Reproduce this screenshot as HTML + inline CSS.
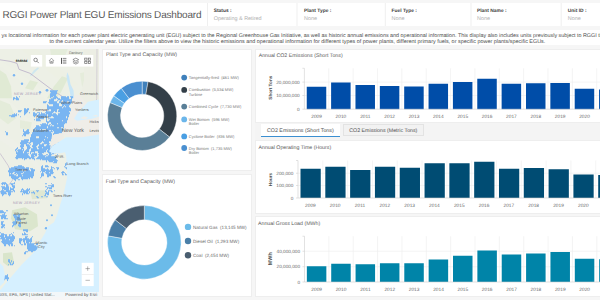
<!DOCTYPE html>
<html><head><meta charset="utf-8"><style>
html,body{margin:0;padding:0;text-rendering:geometricPrecision;}
body{width:600px;height:300px;overflow:hidden;position:relative;background:#f6f6f6;font-family:"Liberation Sans",sans-serif;}
.abs{position:absolute;}
.panel{position:absolute;background:#fff;box-sizing:border-box;border:1px solid #eeeeee;}
svg{position:absolute;left:0;top:0;}
svg text{font-family:"Liberation Sans",sans-serif;}
</style></head><body>
<div class="abs" style="left:0;top:3px;width:600px;height:23px;background:#fff;"></div>
<svg width="600" height="300" viewBox="0 0 600 300">
<!-- header separators -->
<line x1="207.5" y1="3" x2="207.5" y2="26" stroke="#efefef" stroke-width="1"/>
<line x1="297" y1="3" x2="297" y2="26" stroke="#efefef" stroke-width="1"/>
<line x1="385.3" y1="3" x2="385.3" y2="26" stroke="#efefef" stroke-width="1"/>
<line x1="471" y1="3" x2="471" y2="26" stroke="#efefef" stroke-width="1"/>
<line x1="561.2" y1="3" x2="561.2" y2="26" stroke="#efefef" stroke-width="1"/>
<text x="2.5" y="17.9" font-size="10" fill="#5a5a5a" text-anchor="start" font-weight="normal" letter-spacing="-0.2">RGGI Power Plant EGU Emissions Dashboard</text>
<text x="213.7" y="12" font-size="4.9" fill="#404040" text-anchor="start" font-weight="bold" >Status :</text>
<text x="213.7" y="20" font-size="5.43" fill="#b0b0b0" text-anchor="start" font-weight="normal" >Operating &amp; Retired</text>
<text x="304" y="12" font-size="4.9" fill="#404040" text-anchor="start" font-weight="bold" >Plant Type :</text>
<text x="304" y="20" font-size="5.43" fill="#b0b0b0" text-anchor="start" font-weight="normal" >None</text>
<text x="391.5" y="12" font-size="4.9" fill="#404040" text-anchor="start" font-weight="bold" >Fuel Type :</text>
<text x="391.5" y="20" font-size="5.43" fill="#b0b0b0" text-anchor="start" font-weight="normal" >None</text>
<text x="477" y="12" font-size="4.9" fill="#404040" text-anchor="start" font-weight="bold" >Plant Name :</text>
<text x="477" y="20" font-size="5.43" fill="#b0b0b0" text-anchor="start" font-weight="normal" >None</text>
<text x="567.8" y="12" font-size="4.9" fill="#404040" text-anchor="start" font-weight="bold" >Unit ID :</text>
<text x="567.8" y="20" font-size="5.43" fill="#b0b0b0" text-anchor="start" font-weight="normal" >None</text>
</svg>
<div class="abs" style="left:0;top:29.5px;width:600px;height:15.5px;background:#fff;"></div>
<div class="abs" style="left:1.6px;top:32.6px;white-space:nowrap;font-size:5.37px;line-height:6px;color:#4c4c4c;">ys locational information for each power plant electric generating unit (EGU) subject to the Regional Greenhouse Gas Initiative, as well as historic annual emissions and operational information. This display also includes units previously subject to RGGI through</div>
<div class="abs" style="left:49.5px;top:39.1px;white-space:nowrap;font-size:5.43px;line-height:6px;color:#4c4c4c;">to the current calendar year. Utilize the filters above to view the historic emissions and operational information for different types of power plants, different primary fuels, or specific power plants/specific EGUs.</div>
<div class="panel" style="left:102px;top:48.5px;width:150px;height:122px;"></div>
<div class="panel" style="left:102px;top:174.4px;width:150px;height:122.6px;"></div>
<div class="panel" style="left:254.5px;top:48.5px;width:350px;height:74.5px;"></div>
<div class="abs" style="left:254.5px;top:123px;width:350px;height:17px;background:#f4f4f4;"></div>
<div class="abs" style="left:261px;top:123.5px;width:78.7px;height:13px;background:#fff;border-bottom:1px solid #3b8fd1;box-sizing:border-box;"></div>
<div class="abs" style="left:343px;top:124.3px;width:81px;height:12.2px;background:#f2f2f2;border:0.6px solid #e3e3e3;box-sizing:border-box;"></div>
<div class="panel" style="left:254.5px;top:140px;width:350px;height:73.8px;"></div>
<div class="panel" style="left:254.5px;top:216.3px;width:350px;height:80.6px;"></div>
<svg width="600" height="300" viewBox="0 0 600 300">
<text x="106" y="56.3" font-size="5.25" fill="#5c5c5c" text-anchor="start" font-weight="normal" >Plant Type and Capacity (MW)</text>
<text x="105.7" y="182.7" font-size="5.25" fill="#5c5c5c" text-anchor="start" font-weight="normal" >Fuel Type and Capacity (MW)</text>
<text x="258.7" y="56.6" font-size="5.25" fill="#5c5c5c" text-anchor="start" font-weight="normal" >Annual CO2 Emissions (Short Tons)</text>
<text x="258.5" y="148.5" font-size="5.25" fill="#5c5c5c" text-anchor="start" font-weight="normal" >Annual Operating Time (Hours)</text>
<text x="258" y="224.8" font-size="5.25" fill="#5c5c5c" text-anchor="start" font-weight="normal" >Annual Gross Load (MWh)</text>
<text x="267" y="132.2" font-size="5.3" fill="#4c4c4c" text-anchor="start" font-weight="normal" >CO2 Emissions (Short Tons)</text>
<text x="349.3" y="132.2" font-size="5.28" fill="#4c4c4c" text-anchor="start" font-weight="normal" >CO2 Emissions (Metric Tons)</text>
<path d="M142.15 81.20A34.65 34.65 0 0 1 148.06 81.71L145.84 94.52A21.65 21.65 0 0 0 142.15 94.20Z" fill="#3f80bb" stroke="#fff" stroke-width="0.4"/><path d="M148.06 81.71A34.65 34.65 0 0 1 169.54 137.07L159.27 129.11A21.65 21.65 0 0 0 145.84 94.52Z" fill="#333f48" stroke="#fff" stroke-width="0.4"/><path d="M169.54 137.07A34.65 34.65 0 0 1 110.14 102.59L122.15 107.56A21.65 21.65 0 0 0 159.27 129.11Z" fill="#5a7f97" stroke="#fff" stroke-width="0.4"/><path d="M110.14 102.59A34.65 34.65 0 0 1 113.84 95.87L124.46 103.37A21.65 21.65 0 0 0 122.15 107.56Z" fill="#6cb6ea" stroke="#fff" stroke-width="0.4"/><path d="M113.84 95.87A34.65 34.65 0 0 1 121.31 88.17L129.13 98.55A21.65 21.65 0 0 0 124.46 103.37Z" fill="#4a9fe3" stroke="#fff" stroke-width="0.4"/><path d="M121.31 88.17A34.65 34.65 0 0 1 142.15 81.20L142.15 94.20A21.65 21.65 0 0 0 129.13 98.55Z" fill="#4a8fd0" stroke="#fff" stroke-width="0.4"/><path d="M144.30 205.55A36.8 36.8 0 1 1 108.08 235.87L122.00 238.36A22.65 22.65 0 1 0 144.30 219.70Z" fill="#6bbbe9" stroke="#fff" stroke-width="0.4"/><path d="M108.08 235.87A36.8 36.8 0 0 1 115.18 219.85L126.38 228.50A22.65 22.65 0 0 0 122.00 238.36Z" fill="#4a7fa8" stroke="#fff" stroke-width="0.4"/><path d="M115.18 219.85A36.8 36.8 0 0 1 144.30 205.55L144.30 219.70A22.65 22.65 0 0 0 126.38 228.50Z" fill="#4a5e70" stroke="#fff" stroke-width="0.4"/><circle cx="184.2" cy="77.6" r="2.9" fill="#3f80bb"/><text x="188.8" y="79.1" font-size="4.0" fill="#7a7a7a" text-anchor="start" font-weight="normal" >Tangentially-fired&#160;&#160;(461 MW)</text><circle cx="184.2" cy="89.9" r="2.9" fill="#333f48"/><text x="188.8" y="91.4" font-size="4.0" fill="#7a7a7a" text-anchor="start" font-weight="normal" >Combustion&#160;&#160;(5,534 MW)</text><text x="188.8" y="95.7" font-size="4.0" fill="#7a7a7a" text-anchor="start" font-weight="normal" >Turbine</text><circle cx="184.2" cy="106.6" r="2.9" fill="#5a7f97"/><text x="188.8" y="108.1" font-size="4.0" fill="#7a7a7a" text-anchor="start" font-weight="normal" >Combined Cycle&#160;&#160;(7,730 MW)</text><circle cx="184.2" cy="119.4" r="2.9" fill="#6cb6ea"/><text x="188.8" y="120.9" font-size="4.0" fill="#7a7a7a" text-anchor="start" font-weight="normal" >Wet Bottom&#160;&#160;(596 MW)</text><text x="188.8" y="125.2" font-size="4.0" fill="#7a7a7a" text-anchor="start" font-weight="normal" >Boiler</text><circle cx="184.2" cy="136.4" r="2.9" fill="#4a9fe3"/><text x="188.8" y="137.9" font-size="4.0" fill="#7a7a7a" text-anchor="start" font-weight="normal" >Cyclone Boiler&#160;&#160;(836 MW)</text><circle cx="184.2" cy="148" r="2.9" fill="#4a8fd0"/><text x="188.8" y="149.5" font-size="4.0" fill="#7a7a7a" text-anchor="start" font-weight="normal" >Dry Bottom&#160;&#160;(1,735 MW)</text><text x="188.8" y="153.8" font-size="4.0" fill="#7a7a7a" text-anchor="start" font-weight="normal" >Boiler</text><circle cx="188" cy="226.9" r="3.2" fill="#6bbbe9"/><text x="193" y="228.6" font-size="4.6" fill="#6e6e6e" text-anchor="start" font-weight="normal" >Natural Gas&#160;&#160;(13,145 MW)</text><circle cx="188" cy="241" r="3.2" fill="#4a7fa8"/><text x="193" y="242.7" font-size="4.6" fill="#6e6e6e" text-anchor="start" font-weight="normal" >Diesel Oil&#160;&#160;(1,293 MW)</text><circle cx="188" cy="255.3" r="3.2" fill="#4a5e70"/><text x="193" y="257.0" font-size="4.6" fill="#6e6e6e" text-anchor="start" font-weight="normal" >Coal&#160;&#160;(2,454 MW)</text>
<line x1="328.76" y1="68.3" x2="328.76" y2="109.2" stroke="#ececec" stroke-width="0.6"/><line x1="353.12" y1="68.3" x2="353.12" y2="109.2" stroke="#ececec" stroke-width="0.6"/><line x1="377.48" y1="68.3" x2="377.48" y2="109.2" stroke="#ececec" stroke-width="0.6"/><line x1="401.84" y1="68.3" x2="401.84" y2="109.2" stroke="#ececec" stroke-width="0.6"/><line x1="426.20" y1="68.3" x2="426.20" y2="109.2" stroke="#ececec" stroke-width="0.6"/><line x1="450.56" y1="68.3" x2="450.56" y2="109.2" stroke="#ececec" stroke-width="0.6"/><line x1="474.92" y1="68.3" x2="474.92" y2="109.2" stroke="#ececec" stroke-width="0.6"/><line x1="499.28" y1="68.3" x2="499.28" y2="109.2" stroke="#ececec" stroke-width="0.6"/><line x1="523.64" y1="68.3" x2="523.64" y2="109.2" stroke="#ececec" stroke-width="0.6"/><line x1="548.00" y1="68.3" x2="548.00" y2="109.2" stroke="#ececec" stroke-width="0.6"/><line x1="572.36" y1="68.3" x2="572.36" y2="109.2" stroke="#ececec" stroke-width="0.6"/><line x1="596.72" y1="68.3" x2="596.72" y2="109.2" stroke="#ececec" stroke-width="0.6"/><line x1="621.08" y1="68.3" x2="621.08" y2="109.2" stroke="#ececec" stroke-width="0.6"/><line x1="304.4" y1="82.1" x2="600" y2="82.1" stroke="#ececec" stroke-width="0.6"/><line x1="304.4" y1="95.5" x2="600" y2="95.5" stroke="#ececec" stroke-width="0.6"/><rect x="306.75" y="86.75" width="19.5" height="22.45" fill="#004da8"/><text x="316.58" y="118" font-size="4.8" fill="#6a6a6a" text-anchor="middle" font-weight="normal" >2009</text><rect x="331.11" y="82.5" width="19.5" height="26.70" fill="#004da8"/><text x="340.94" y="118" font-size="4.8" fill="#6a6a6a" text-anchor="middle" font-weight="normal" >2010</text><rect x="355.47" y="85" width="19.5" height="24.20" fill="#004da8"/><text x="365.30" y="118" font-size="4.8" fill="#6a6a6a" text-anchor="middle" font-weight="normal" >2011</text><rect x="379.83" y="86" width="19.5" height="23.20" fill="#004da8"/><text x="389.66" y="118" font-size="4.8" fill="#6a6a6a" text-anchor="middle" font-weight="normal" >2012</text><rect x="404.19" y="86.5" width="19.5" height="22.70" fill="#004da8"/><text x="414.02" y="118" font-size="4.8" fill="#6a6a6a" text-anchor="middle" font-weight="normal" >2013</text><rect x="428.55" y="83.75" width="19.5" height="25.45" fill="#004da8"/><text x="438.38" y="118" font-size="4.8" fill="#6a6a6a" text-anchor="middle" font-weight="normal" >2014</text><rect x="452.91" y="82" width="19.5" height="27.20" fill="#004da8"/><text x="462.74" y="118" font-size="4.8" fill="#6a6a6a" text-anchor="middle" font-weight="normal" >2015</text><rect x="477.27" y="78.75" width="19.5" height="30.45" fill="#004da8"/><text x="487.10" y="118" font-size="4.8" fill="#6a6a6a" text-anchor="middle" font-weight="normal" >2016</text><rect x="501.63" y="83.75" width="19.5" height="25.45" fill="#004da8"/><text x="511.46" y="118" font-size="4.8" fill="#6a6a6a" text-anchor="middle" font-weight="normal" >2017</text><rect x="525.99" y="83.25" width="19.5" height="25.95" fill="#004da8"/><text x="535.82" y="118" font-size="4.8" fill="#6a6a6a" text-anchor="middle" font-weight="normal" >2018</text><rect x="550.35" y="83" width="19.5" height="26.20" fill="#004da8"/><text x="560.18" y="118" font-size="4.8" fill="#6a6a6a" text-anchor="middle" font-weight="normal" >2019</text><rect x="574.71" y="88.75" width="19.5" height="20.45" fill="#004da8"/><text x="584.54" y="118" font-size="4.8" fill="#6a6a6a" text-anchor="middle" font-weight="normal" >2020</text><rect x="599.07" y="89.5" width="19.5" height="19.70" fill="#004da8"/><text x="608.90" y="118" font-size="4.8" fill="#6a6a6a" text-anchor="middle" font-weight="normal" >2021</text><line x1="304.4" y1="68.3" x2="304.4" y2="109.2" stroke="#cfcfcf" stroke-width="0.6"/><line x1="304.4" y1="109.2" x2="600" y2="109.2" stroke="#cfcfcf" stroke-width="0.6"/><text x="299.7" y="83.8" font-size="4.7" fill="#6a6a6a" text-anchor="end" font-weight="normal" >20,000,000</text><line x1="302.4" y1="82.1" x2="304.4" y2="82.1" stroke="#cfcfcf" stroke-width="0.6"/><text x="299.7" y="97.2" font-size="4.7" fill="#6a6a6a" text-anchor="end" font-weight="normal" >10,000,000</text><line x1="302.4" y1="95.5" x2="304.4" y2="95.5" stroke="#cfcfcf" stroke-width="0.6"/><text x="299.7" y="110.9" font-size="4.7" fill="#6a6a6a" text-anchor="end" font-weight="normal" >0</text><line x1="302.4" y1="109.2" x2="304.4" y2="109.2" stroke="#cfcfcf" stroke-width="0.6"/><line x1="302.4" y1="68.3" x2="304.4" y2="68.3" stroke="#cfcfcf" stroke-width="0.6"/><text x="0" y="0" font-size="4.6" fill="#505050" font-weight="bold" text-anchor="middle" transform="translate(272,87.7) rotate(-90)">Short Tons</text><line x1="322.81" y1="160.5" x2="322.81" y2="198" stroke="#ececec" stroke-width="0.6"/><line x1="347.62" y1="160.5" x2="347.62" y2="198" stroke="#ececec" stroke-width="0.6"/><line x1="372.43" y1="160.5" x2="372.43" y2="198" stroke="#ececec" stroke-width="0.6"/><line x1="397.24" y1="160.5" x2="397.24" y2="198" stroke="#ececec" stroke-width="0.6"/><line x1="422.05" y1="160.5" x2="422.05" y2="198" stroke="#ececec" stroke-width="0.6"/><line x1="446.86" y1="160.5" x2="446.86" y2="198" stroke="#ececec" stroke-width="0.6"/><line x1="471.67" y1="160.5" x2="471.67" y2="198" stroke="#ececec" stroke-width="0.6"/><line x1="496.48" y1="160.5" x2="496.48" y2="198" stroke="#ececec" stroke-width="0.6"/><line x1="521.29" y1="160.5" x2="521.29" y2="198" stroke="#ececec" stroke-width="0.6"/><line x1="546.10" y1="160.5" x2="546.10" y2="198" stroke="#ececec" stroke-width="0.6"/><line x1="570.91" y1="160.5" x2="570.91" y2="198" stroke="#ececec" stroke-width="0.6"/><line x1="595.72" y1="160.5" x2="595.72" y2="198" stroke="#ececec" stroke-width="0.6"/><line x1="620.53" y1="160.5" x2="620.53" y2="198" stroke="#ececec" stroke-width="0.6"/><line x1="298" y1="173.25" x2="600" y2="173.25" stroke="#ececec" stroke-width="0.6"/><line x1="298" y1="185.5" x2="600" y2="185.5" stroke="#ececec" stroke-width="0.6"/><rect x="300.50" y="168.75" width="20.25" height="29.25" fill="#004c73"/><text x="310.40" y="207" font-size="4.8" fill="#6a6a6a" text-anchor="middle" font-weight="normal" >2009</text><rect x="325.31" y="166.75" width="20.25" height="31.25" fill="#004c73"/><text x="335.21" y="207" font-size="4.8" fill="#6a6a6a" text-anchor="middle" font-weight="normal" >2010</text><rect x="350.12" y="170" width="20.25" height="28.00" fill="#004c73"/><text x="360.02" y="207" font-size="4.8" fill="#6a6a6a" text-anchor="middle" font-weight="normal" >2011</text><rect x="374.93" y="166.75" width="20.25" height="31.25" fill="#004c73"/><text x="384.83" y="207" font-size="4.8" fill="#6a6a6a" text-anchor="middle" font-weight="normal" >2012</text><rect x="399.74" y="167.75" width="20.25" height="30.25" fill="#004c73"/><text x="409.64" y="207" font-size="4.8" fill="#6a6a6a" text-anchor="middle" font-weight="normal" >2013</text><rect x="424.55" y="163.25" width="20.25" height="34.75" fill="#004c73"/><text x="434.45" y="207" font-size="4.8" fill="#6a6a6a" text-anchor="middle" font-weight="normal" >2014</text><rect x="449.36" y="163.25" width="20.25" height="34.75" fill="#004c73"/><text x="459.26" y="207" font-size="4.8" fill="#6a6a6a" text-anchor="middle" font-weight="normal" >2015</text><rect x="474.17" y="161.75" width="20.25" height="36.25" fill="#004c73"/><text x="484.07" y="207" font-size="4.8" fill="#6a6a6a" text-anchor="middle" font-weight="normal" >2016</text><rect x="498.98" y="168.75" width="20.25" height="29.25" fill="#004c73"/><text x="508.88" y="207" font-size="4.8" fill="#6a6a6a" text-anchor="middle" font-weight="normal" >2017</text><rect x="523.79" y="168" width="20.25" height="30.00" fill="#004c73"/><text x="533.69" y="207" font-size="4.8" fill="#6a6a6a" text-anchor="middle" font-weight="normal" >2018</text><rect x="548.60" y="169.25" width="20.25" height="28.75" fill="#004c73"/><text x="558.50" y="207" font-size="4.8" fill="#6a6a6a" text-anchor="middle" font-weight="normal" >2019</text><rect x="573.41" y="174.5" width="20.25" height="23.50" fill="#004c73"/><text x="583.31" y="207" font-size="4.8" fill="#6a6a6a" text-anchor="middle" font-weight="normal" >2020</text><rect x="598.22" y="175" width="20.25" height="23.00" fill="#004c73"/><text x="608.12" y="207" font-size="4.8" fill="#6a6a6a" text-anchor="middle" font-weight="normal" >2021</text><line x1="298" y1="160.5" x2="298" y2="198" stroke="#cfcfcf" stroke-width="0.6"/><line x1="298" y1="198" x2="600" y2="198" stroke="#cfcfcf" stroke-width="0.6"/><text x="293.3" y="174.95" font-size="4.7" fill="#6a6a6a" text-anchor="end" font-weight="normal" >200,000</text><line x1="296" y1="173.25" x2="298" y2="173.25" stroke="#cfcfcf" stroke-width="0.6"/><text x="293.3" y="187.2" font-size="4.7" fill="#6a6a6a" text-anchor="end" font-weight="normal" >100,000</text><line x1="296" y1="185.5" x2="298" y2="185.5" stroke="#cfcfcf" stroke-width="0.6"/><text x="293.3" y="199.7" font-size="4.7" fill="#6a6a6a" text-anchor="end" font-weight="normal" >0</text><line x1="296" y1="198" x2="298" y2="198" stroke="#cfcfcf" stroke-width="0.6"/><line x1="296" y1="160.5" x2="298" y2="160.5" stroke="#cfcfcf" stroke-width="0.6"/><text x="0" y="0" font-size="4.6" fill="#505050" font-weight="bold" text-anchor="middle" transform="translate(271.5,179.5) rotate(-90)">Hours</text><line x1="328.86" y1="236.25" x2="328.86" y2="282" stroke="#ececec" stroke-width="0.6"/><line x1="353.22" y1="236.25" x2="353.22" y2="282" stroke="#ececec" stroke-width="0.6"/><line x1="377.58" y1="236.25" x2="377.58" y2="282" stroke="#ececec" stroke-width="0.6"/><line x1="401.94" y1="236.25" x2="401.94" y2="282" stroke="#ececec" stroke-width="0.6"/><line x1="426.30" y1="236.25" x2="426.30" y2="282" stroke="#ececec" stroke-width="0.6"/><line x1="450.66" y1="236.25" x2="450.66" y2="282" stroke="#ececec" stroke-width="0.6"/><line x1="475.02" y1="236.25" x2="475.02" y2="282" stroke="#ececec" stroke-width="0.6"/><line x1="499.38" y1="236.25" x2="499.38" y2="282" stroke="#ececec" stroke-width="0.6"/><line x1="523.74" y1="236.25" x2="523.74" y2="282" stroke="#ececec" stroke-width="0.6"/><line x1="548.10" y1="236.25" x2="548.10" y2="282" stroke="#ececec" stroke-width="0.6"/><line x1="572.46" y1="236.25" x2="572.46" y2="282" stroke="#ececec" stroke-width="0.6"/><line x1="596.82" y1="236.25" x2="596.82" y2="282" stroke="#ececec" stroke-width="0.6"/><line x1="621.18" y1="236.25" x2="621.18" y2="282" stroke="#ececec" stroke-width="0.6"/><line x1="304.5" y1="251.25" x2="600" y2="251.25" stroke="#ececec" stroke-width="0.6"/><line x1="304.5" y1="266.75" x2="600" y2="266.75" stroke="#ececec" stroke-width="0.6"/><rect x="306.85" y="266.25" width="19.5" height="15.75" fill="#0084a8"/><text x="316.68" y="291.3" font-size="4.8" fill="#6a6a6a" text-anchor="middle" font-weight="normal" >2009</text><rect x="331.21" y="263.75" width="19.5" height="18.25" fill="#0084a8"/><text x="341.04" y="291.3" font-size="4.8" fill="#6a6a6a" text-anchor="middle" font-weight="normal" >2010</text><rect x="355.57" y="264.25" width="19.5" height="17.75" fill="#0084a8"/><text x="365.40" y="291.3" font-size="4.8" fill="#6a6a6a" text-anchor="middle" font-weight="normal" >2011</text><rect x="379.93" y="263.25" width="19.5" height="18.75" fill="#0084a8"/><text x="389.76" y="291.3" font-size="4.8" fill="#6a6a6a" text-anchor="middle" font-weight="normal" >2012</text><rect x="404.29" y="263.25" width="19.5" height="18.75" fill="#0084a8"/><text x="414.12" y="291.3" font-size="4.8" fill="#6a6a6a" text-anchor="middle" font-weight="normal" >2013</text><rect x="428.65" y="259.5" width="19.5" height="22.50" fill="#0084a8"/><text x="438.48" y="291.3" font-size="4.8" fill="#6a6a6a" text-anchor="middle" font-weight="normal" >2014</text><rect x="453.01" y="255.75" width="19.5" height="26.25" fill="#0084a8"/><text x="462.84" y="291.3" font-size="4.8" fill="#6a6a6a" text-anchor="middle" font-weight="normal" >2015</text><rect x="477.37" y="250.5" width="19.5" height="31.50" fill="#0084a8"/><text x="487.20" y="291.3" font-size="4.8" fill="#6a6a6a" text-anchor="middle" font-weight="normal" >2016</text><rect x="501.73" y="254.5" width="19.5" height="27.50" fill="#0084a8"/><text x="511.56" y="291.3" font-size="4.8" fill="#6a6a6a" text-anchor="middle" font-weight="normal" >2017</text><rect x="526.09" y="253.5" width="19.5" height="28.50" fill="#0084a8"/><text x="535.92" y="291.3" font-size="4.8" fill="#6a6a6a" text-anchor="middle" font-weight="normal" >2018</text><rect x="550.45" y="252" width="19.5" height="30.00" fill="#0084a8"/><text x="560.28" y="291.3" font-size="4.8" fill="#6a6a6a" text-anchor="middle" font-weight="normal" >2019</text><rect x="574.81" y="258.75" width="19.5" height="23.25" fill="#0084a8"/><text x="584.64" y="291.3" font-size="4.8" fill="#6a6a6a" text-anchor="middle" font-weight="normal" >2020</text><rect x="599.17" y="259.25" width="19.5" height="22.75" fill="#0084a8"/><text x="609.00" y="291.3" font-size="4.8" fill="#6a6a6a" text-anchor="middle" font-weight="normal" >2021</text><line x1="304.5" y1="236.25" x2="304.5" y2="282" stroke="#cfcfcf" stroke-width="0.6"/><line x1="304.5" y1="282" x2="600" y2="282" stroke="#cfcfcf" stroke-width="0.6"/><text x="300" y="252.95" font-size="4.7" fill="#6a6a6a" text-anchor="end" font-weight="normal" >40,000,000</text><line x1="302.5" y1="251.25" x2="304.5" y2="251.25" stroke="#cfcfcf" stroke-width="0.6"/><text x="300" y="268.45" font-size="4.7" fill="#6a6a6a" text-anchor="end" font-weight="normal" >20,000,000</text><line x1="302.5" y1="266.75" x2="304.5" y2="266.75" stroke="#cfcfcf" stroke-width="0.6"/><text x="300" y="283.7" font-size="4.7" fill="#6a6a6a" text-anchor="end" font-weight="normal" >0</text><line x1="302.5" y1="282" x2="304.5" y2="282" stroke="#cfcfcf" stroke-width="0.6"/><line x1="302.5" y1="236.25" x2="304.5" y2="236.25" stroke="#cfcfcf" stroke-width="0.6"/><text x="0" y="0" font-size="5.4" fill="#505050" font-weight="bold" text-anchor="middle" transform="translate(271.6,258.7) rotate(-90)">MWh</text>
</svg>
<!-- MAP -->
<div class="abs" style="left:0;top:48.7px;width:99.3px;height:248.6px;overflow:hidden;background:#e7ecdd;">
<svg width="100" height="252" viewBox="0 48.7 100 252" style="left:0;top:0">
<rect x="0" y="48" width="100" height="253" fill="#edf0e6"/>
<!-- lighter ridges -->
<path d="M0 66 L40 95 L60 110 L60 104 L30 80 L0 60 Z" fill="#eef1e6"/>
<path d="M0 100 L30 125 L45 140 L50 136 L20 110 L0 92 Z" fill="#eef1e7"/>
<path d="M20 48 L70 88 L78 84 L35 48 Z" fill="#edf0e4"/>
<path d="M0 140 L30 160 L50 190 L55 185 L30 152 L0 130 Z" fill="#eef0e8"/>
<path d="M0 195 L20 190 L45 200 L55 215 L40 240 L20 260 L0 275 Z" fill="#edf0e6"/>
<!-- green forests -->
<g fill="#e0eAd4">
<path d="M0 70 L6 74 L11 86 L12 98 L0 98 Z"/>
<path d="M47 98 L54 86 L62 76 L68 78 L61 92 L56 98 Z"/>
<path d="M25 88 L30 80 L38 82 L33 90 Z"/>
<path d="M50 48 L68 48 L64 58 L52 60 Z" opacity="0.7"/>
<path d="M80 73 L92 70 L98 78 L90 90 L82 86 Z" opacity="0.6"/>
<path d="M0 100 L10 104 L16 118 L8 124 L0 118 Z" opacity="0.7"/>
<path d="M20 120 L32 122 L30 130 L20 128 Z" opacity="0.6"/>
</g>
<path d="M12 210 L25 207 L37 214 L38 226 L30 231 L15 229 L11 218 Z" fill="#dbe6cd"/>
<path d="M3 253 L12 252 L14 262 L8 266 L3 262 Z" fill="#d9e5cb"/>
<path d="M30 190 L45 190 L47 198 L32 199 Z" fill="#dfe8d3"/>
<!-- NYC beige -->
<path d="M73 95 L100 93 L100 137 L80 139 L64 135 L62 133 L66 124 L71 112 Z" fill="#efede8"/>
<path d="M84 48 L100 48 L100 100 L88 104 L80 96 L84 80 Z" fill="#eceee4"/>
<!-- water -->
<path d="M67.3 72 L69 76 L70.5 84 L73.5 90 L74 98 L71 98 L69.5 90 L67.5 82 L66.5 76 Z" fill="#c9e6f7"/>
<path d="M30 75 L34 70 L38 67 L39 68 L35 72 L31 76 Z" fill="#cfe7ef"/>
<!-- state border -->
<path d="M0 59.5 L10 61 L17 63 L19 69 L30 73 L50 88 L62 96 L72 100" fill="none" stroke="#b9aec6" stroke-width="0.8"/>
<path d="M0 153 L8 165 L14 178 L6 188 L0 193" fill="none" stroke="#c3b9cc" stroke-width="0.7"/>
<path d="M97 48 L96.7 98 L95 110" fill="none" stroke="#c4bccd" stroke-width="0.6"/>
<!-- blue clusters -->
<filter id="bl" x="-5%" y="-5%" width="110%" height="110%"><feGaussianBlur stdDeviation="0.35"/></filter><path d="M50 90h8v1h-8zM50 91h7v1h-7zM51 92h6v1h-6zM50 93h7v1h-7zM50 94h6v1h-6zM50 95h6v1h-6zM16 96h1v1h-1zM19 96h1v1h-1zM50 96h3v1h-3zM54 96h3v1h-3zM61 96h5v1h-5zM67 96h2v1h-2zM70 96h3v1h-3zM13 97h2v1h-2zM16 97h2v1h-2zM50 97h1v1h-1zM53 97h5v1h-5zM61 97h8v1h-8zM71 97h2v1h-2zM13 98h6v1h-6zM51 98h5v1h-5zM57 98h3v1h-3zM61 98h8v1h-8zM71 98h1v1h-1zM13 99h1v1h-1zM16 99h3v1h-3zM49 99h5v1h-5zM58 99h14v1h-14zM49 100h5v1h-5zM57 100h1v1h-1zM60 100h2v1h-2zM63 100h9v1h-9zM43 101h4v1h-4zM49 101h8v1h-8zM59 101h2v1h-2zM63 101h4v1h-4zM69 101h3v1h-3zM43 102h3v1h-3zM48 102h9v1h-9zM59 102h8v1h-8zM68 102h4v1h-4zM49 103h10v1h-10zM61 103h10v1h-10zM47 104h1v1h-1zM53 104h6v1h-6zM62 104h8v1h-8zM47 105h2v1h-2zM53 105h6v1h-6zM62 105h2v1h-2zM65 105h4v1h-4zM47 106h16v1h-16zM64 106h1v1h-1zM66 106h3v1h-3zM47 107h15v1h-15zM63 107h7v1h-7zM24 108h2v1h-2zM27 108h2v1h-2zM47 108h24v1h-24zM24 109h5v1h-5zM48 109h1v1h-1zM51 109h6v1h-6zM59 109h12v1h-12zM18 110h4v1h-4zM24 110h4v1h-4zM46 110h1v1h-1zM51 110h6v1h-6zM58 110h13v1h-13zM18 111h3v1h-3zM24 111h4v1h-4zM46 111h8v1h-8zM55 111h2v1h-2zM58 111h11v1h-11zM24 112h3v1h-3zM29 112h1v1h-1zM33 112h2v1h-2zM37 112h3v1h-3zM41 112h1v1h-1zM45 112h8v1h-8zM60 112h10v1h-10zM14 113h1v1h-1zM16 113h1v1h-1zM24 113h2v1h-2zM33 113h4v1h-4zM39 113h1v1h-1zM41 113h4v1h-4zM46 113h6v1h-6zM53 113h3v1h-3zM58 113h12v1h-12zM12 114h5v1h-5zM18 114h1v1h-1zM24 114h1v1h-1zM33 114h4v1h-4zM38 114h9v1h-9zM48 114h9v1h-9zM58 114h11v1h-11zM9 115h8v1h-8zM33 115h3v1h-3zM37 115h10v1h-10zM48 115h21v1h-21zM11 116h4v1h-4zM20 116h1v1h-1zM34 116h1v1h-1zM37 116h10v1h-10zM48 116h3v1h-3zM53 116h13v1h-13zM67 116h2v1h-2zM38 117h6v1h-6zM46 117h1v1h-1zM54 117h12v1h-12zM67 117h1v1h-1zM36 118h8v1h-8zM46 118h1v1h-1zM48 118h20v1h-20zM34 119h1v1h-1zM36 119h4v1h-4zM46 119h1v1h-1zM50 119h18v1h-18zM36 120h5v1h-5zM46 120h1v1h-1zM49 120h13v1h-13zM63 120h4v1h-4zM46 121h21v1h-21zM47 122h2v1h-2zM51 122h16v1h-16zM42 123h4v1h-4zM47 123h1v1h-1zM51 123h6v1h-6zM58 123h7v1h-7zM40 124h8v1h-8zM49 124h2v1h-2zM52 124h12v1h-12zM36 125h3v1h-3zM41 125h9v1h-9zM51 125h1v1h-1zM54 125h10v1h-10zM36 126h11v1h-11zM48 126h16v1h-16zM35 127h12v1h-12zM48 127h9v1h-9zM59 127h2v1h-2zM63 127h1v1h-1zM34 128h29v1h-29zM23 129h1v1h-1zM27 129h2v1h-2zM33 129h2v1h-2zM36 129h4v1h-4zM41 129h1v1h-1zM46 129h17v1h-17zM23 130h1v1h-1zM26 130h3v1h-3zM33 130h16v1h-16zM51 130h1v1h-1zM53 130h10v1h-10zM5 131h1v1h-1zM23 131h6v1h-6zM33 131h20v1h-20zM54 131h8v1h-8zM6 132h2v1h-2zM24 132h6v1h-6zM32 132h19v1h-19zM54 132h8v1h-8zM6 133h2v1h-2zM23 133h6v1h-6zM32 133h20v1h-20zM53 133h6v1h-6zM6 134h2v1h-2zM23 134h3v1h-3zM31 134h21v1h-21zM53 134h1v1h-1zM22 135h1v1h-1zM24 135h2v1h-2zM31 135h21v1h-21zM31 136h5v1h-5zM39 136h6v1h-6zM46 136h6v1h-6zM30 137h6v1h-6zM39 137h8v1h-8zM48 137h6v1h-6zM55 137h2v1h-2zM30 138h24v1h-24zM55 138h5v1h-5zM24 139h5v1h-5zM30 139h14v1h-14zM45 139h6v1h-6zM53 139h2v1h-2zM57 139h1v1h-1zM59 139h1v1h-1zM21 140h8v1h-8zM30 140h21v1h-21zM52 140h3v1h-3zM57 140h1v1h-1zM21 141h7v1h-7zM30 141h12v1h-12zM43 141h6v1h-6zM51 141h5v1h-5zM57 141h1v1h-1zM20 142h11v1h-11zM33 142h8v1h-8zM44 142h5v1h-5zM51 142h3v1h-3zM58 142h2v1h-2zM20 143h7v1h-7zM29 143h1v1h-1zM33 143h7v1h-7zM42 143h8v1h-8zM51 143h5v1h-5zM58 143h2v1h-2zM21 144h3v1h-3zM26 144h3v1h-3zM30 144h1v1h-1zM33 144h5v1h-5zM39 144h5v1h-5zM47 144h2v1h-2zM51 144h7v1h-7zM20 145h4v1h-4zM26 145h4v1h-4zM32 145h5v1h-5zM39 145h5v1h-5zM46 145h12v1h-12zM20 146h4v1h-4zM27 146h3v1h-3zM32 146h4v1h-4zM38 146h22v1h-22zM17 147h1v1h-1zM21 147h2v1h-2zM27 147h4v1h-4zM33 147h4v1h-4zM38 147h4v1h-4zM43 147h17v1h-17zM16 148h2v1h-2zM21 148h3v1h-3zM27 148h3v1h-3zM31 148h6v1h-6zM39 148h21v1h-21zM15 149h2v1h-2zM18 149h4v1h-4zM23 149h1v1h-1zM26 149h3v1h-3zM31 149h16v1h-16zM48 149h9v1h-9zM58 149h2v1h-2zM15 150h1v1h-1zM17 150h7v1h-7zM25 150h4v1h-4zM31 150h15v1h-15zM47 150h9v1h-9zM59 150h1v1h-1zM16 151h1v1h-1zM18 151h5v1h-5zM24 151h5v1h-5zM30 151h5v1h-5zM38 151h8v1h-8zM47 151h9v1h-9zM16 152h7v1h-7zM24 152h3v1h-3zM30 152h1v1h-1zM34 152h1v1h-1zM38 152h6v1h-6zM48 152h8v1h-8zM16 153h13v1h-13zM30 153h1v1h-1zM32 153h5v1h-5zM39 153h3v1h-3zM49 153h2v1h-2zM52 153h2v1h-2zM17 154h11v1h-11zM31 154h6v1h-6zM38 154h5v1h-5zM46 154h2v1h-2zM49 154h3v1h-3zM57 154h1v1h-1zM16 155h13v1h-13zM31 155h3v1h-3zM35 155h2v1h-2zM39 155h7v1h-7zM48 155h3v1h-3zM16 156h14v1h-14zM31 156h4v1h-4zM38 156h7v1h-7zM46 156h11v1h-11zM15 157h19v1h-19zM37 157h19v1h-19zM16 158h2v1h-2zM22 158h1v1h-1zM24 158h3v1h-3zM29 158h2v1h-2zM32 158h3v1h-3zM36 158h20v1h-20zM24 159h1v1h-1zM34 159h1v1h-1zM40 159h1v1h-1zM42 159h15v1h-15zM46 160h1v1h-1zM48 160h10v1h-10zM46 161h1v1h-1zM49 161h4v1h-4zM54 161h3v1h-3zM53 162h4v1h-4zM66 162h1v1h-1zM65 163h2v1h-2zM65 164h2v1h-2zM18 165h4v1h-4zM42 165h1v1h-1zM45 165h3v1h-3zM65 165h1v1h-1zM14 166h10v1h-10zM41 166h2v1h-2zM45 166h4v1h-4zM51 166h1v1h-1zM64 166h1v1h-1zM11 167h14v1h-14zM26 167h3v1h-3zM41 167h2v1h-2zM51 167h3v1h-3zM56 167h3v1h-3zM65 167h2v1h-2zM9 168h20v1h-20zM30 168h3v1h-3zM41 168h4v1h-4zM47 168h1v1h-1zM51 168h1v1h-1zM54 168h1v1h-1zM57 168h2v1h-2zM66 168h1v1h-1zM9 169h13v1h-13zM23 169h6v1h-6zM31 169h4v1h-4zM41 169h8v1h-8zM50 169h3v1h-3zM57 169h1v1h-1zM8 170h14v1h-14zM23 170h1v1h-1zM26 170h4v1h-4zM31 170h4v1h-4zM41 170h12v1h-12zM8 171h26v1h-26zM40 171h1v1h-1zM42 171h3v1h-3zM46 171h7v1h-7zM62 171h2v1h-2zM9 172h4v1h-4zM15 172h8v1h-8zM24 172h10v1h-10zM42 172h1v1h-1zM45 172h4v1h-4zM50 172h4v1h-4zM61 172h4v1h-4zM9 173h1v1h-1zM11 173h1v1h-1zM14 173h2v1h-2zM17 173h4v1h-4zM23 173h11v1h-11zM41 173h3v1h-3zM46 173h7v1h-7zM62 173h1v1h-1zM65 173h1v1h-1zM9 174h5v1h-5zM16 174h1v1h-1zM18 174h16v1h-16zM41 174h3v1h-3zM47 174h4v1h-4zM62 174h2v1h-2zM65 174h2v1h-2zM9 175h7v1h-7zM18 175h4v1h-4zM23 175h11v1h-11zM41 175h3v1h-3zM47 175h4v1h-4zM11 176h22v1h-22zM41 176h1v1h-1zM47 176h2v1h-2zM53 176h2v1h-2zM11 177h8v1h-8zM21 177h9v1h-9zM31 177h2v1h-2zM40 177h1v1h-1zM54 177h2v1h-2zM12 178h6v1h-6zM21 178h7v1h-7zM29 178h1v1h-1zM14 179h2v1h-2zM18 179h2v1h-2zM22 179h1v1h-1zM15 180h1v1h-1zM2 182h4v1h-4zM14 182h1v1h-1zM1 183h6v1h-6zM10 183h5v1h-5zM45 183h2v1h-2zM51 183h1v1h-1zM2 184h1v1h-1zM4 184h1v1h-1zM6 184h2v1h-2zM11 184h2v1h-2zM52 184h2v1h-2zM6 185h2v1h-2zM12 185h3v1h-3zM48 185h6v1h-6zM1 186h4v1h-4zM6 186h3v1h-3zM12 186h3v1h-3zM45 186h2v1h-2zM51 186h3v1h-3zM2 187h7v1h-7zM10 187h1v1h-1zM13 187h2v1h-2zM47 187h5v1h-5zM2 188h7v1h-7zM10 188h4v1h-4zM22 188h1v1h-1zM27 188h1v1h-1zM29 188h1v1h-1zM47 188h1v1h-1zM49 188h3v1h-3zM2 189h1v1h-1zM4 189h5v1h-5zM10 189h4v1h-4zM21 189h3v1h-3zM26 189h4v1h-4zM46 189h1v1h-1zM1 190h3v1h-3zM6 190h5v1h-5zM13 190h2v1h-2zM21 190h1v1h-1zM23 190h6v1h-6zM36 190h3v1h-3zM45 190h1v1h-1zM48 190h4v1h-4zM54 190h1v1h-1zM0 191h13v1h-13zM14 191h1v1h-1zM20 191h8v1h-8zM29 191h1v1h-1zM33 191h1v1h-1zM37 191h1v1h-1zM45 191h2v1h-2zM48 191h1v1h-1zM51 191h2v1h-2zM1 192h5v1h-5zM8 192h3v1h-3zM23 192h5v1h-5zM29 192h1v1h-1zM31 192h4v1h-4zM46 192h3v1h-3zM1 193h6v1h-6zM8 193h3v1h-3zM22 193h1v1h-1zM24 193h1v1h-1zM26 193h3v1h-3zM34 193h1v1h-1zM45 193h4v1h-4zM2 194h2v1h-2zM8 194h3v1h-3zM22 194h1v1h-1zM45 194h1v1h-1zM47 194h2v1h-2zM2 195h1v1h-1zM9 195h1v1h-1zM44 195h2v1h-2zM36 196h2v1h-2zM41 196h2v1h-2zM46 196h2v1h-2zM37 197h2v1h-2zM0 210h3v1h-3zM6 210h2v1h-2zM0 211h4v1h-4zM0 212h6v1h-6zM4 213h1v1h-1zM2 214h3v1h-3zM13 214h3v1h-3zM17 214h4v1h-4zM0 215h7v1h-7zM13 215h4v1h-4zM18 215h2v1h-2zM1 216h5v1h-5zM14 216h6v1h-6zM1 217h5v1h-5zM14 217h6v1h-6zM1 218h2v1h-2zM4 218h4v1h-4zM15 218h5v1h-5zM15 219h6v1h-6zM15 220h1v1h-1zM17 220h4v1h-4zM1 221h3v1h-3zM13 221h4v1h-4zM20 221h1v1h-1zM1 222h2v1h-2zM12 222h5v1h-5zM19 222h1v1h-1zM1 223h2v1h-2zM13 223h4v1h-4zM19 223h2v1h-2zM1 224h4v1h-4zM13 224h3v1h-3zM18 224h3v1h-3zM2 225h3v1h-3zM12 225h2v1h-2zM18 225h3v1h-3zM1 226h3v1h-3zM12 226h1v1h-1zM19 226h2v1h-2zM1 227h2v1h-2zM4 227h1v1h-1zM23 229h5v1h-5zM23 230h5v1h-5zM26 231h2v1h-2zM0 232h1v1h-1zM13 232h1v1h-1zM24 232h1v1h-1zM1 233h3v1h-3zM11 233h1v1h-1zM22 233h1v1h-1zM24 233h2v1h-2zM1 234h6v1h-6zM9 234h2v1h-2zM12 234h1v1h-1zM22 234h6v1h-6zM0 235h4v1h-4zM5 235h2v1h-2zM9 235h1v1h-1zM12 235h2v1h-2zM0 236h4v1h-4zM5 236h10v1h-10zM25 236h3v1h-3zM32 236h1v1h-1zM1 237h14v1h-14zM25 237h2v1h-2zM31 237h1v1h-1zM0 238h5v1h-5zM6 238h9v1h-9zM19 238h3v1h-3zM23 238h6v1h-6zM30 238h2v1h-2zM2 239h7v1h-7zM10 239h4v1h-4zM19 239h13v1h-13zM2 240h12v1h-12zM19 240h3v1h-3zM23 240h2v1h-2zM26 240h6v1h-6zM1 241h12v1h-12zM19 241h2v1h-2zM23 241h2v1h-2zM26 241h6v1h-6zM2 242h10v1h-10zM19 242h2v1h-2zM24 242h1v1h-1zM26 242h3v1h-3zM30 242h1v1h-1zM3 243h10v1h-10zM20 243h1v1h-1zM24 243h2v1h-2zM27 243h8v1h-8zM36 243h2v1h-2zM4 244h2v1h-2zM8 244h2v1h-2zM11 244h2v1h-2zM21 244h2v1h-2zM24 244h2v1h-2zM27 244h7v1h-7zM36 244h2v1h-2zM4 245h2v1h-2zM9 245h1v1h-1zM11 245h2v1h-2zM14 245h1v1h-1zM27 245h9v1h-9zM27 246h11v1h-11zM27 247h11v1h-11zM27 248h11v1h-11zM28 249h10v1h-10zM28 250h10v1h-10zM25 251h3v1h-3zM31 251h2v1h-2zM24 252h2v1h-2zM24 253h2v1h-2zM8 259h2v1h-2zM8 260h2v1h-2zM11 260h1v1h-1zM8 261h2v1h-2zM11 261h1v1h-1zM13 261h1v1h-1zM9 262h2v1h-2zM13 262h1v1h-1zM10 263h1v1h-1zM12 263h2v1h-2zM8 264h1v1h-1zM10 264h3v1h-3zM7 274h1v1h-1zM4 275h4v1h-4zM4 276h4v1h-4zM4 277h5v1h-5zM4 278h5v1h-5zM4 279h1v1h-1zM7 279h1v1h-1zM7 280h1v1h-1z" fill="#79b5f2" filter="url(#bl)"/>
<circle cx="14" cy="75" r="1.2" fill="#79b5f2"/><circle cx="22" cy="83.5" r="1.2" fill="#79b5f2"/><circle cx="40" cy="92" r="1.2" fill="#79b5f2"/><circle cx="47" cy="90" r="1.4" fill="#79b5f2"/><circle cx="51" cy="205" r="1" fill="#79b5f2"/><circle cx="52" cy="215" r="1" fill="#79b5f2"/><circle cx="47" cy="220" r="1" fill="#79b5f2"/><circle cx="46" cy="228" r="1.2" fill="#79b5f2"/><path d="M52 135 L58 133.5 L63 133 L64 137 L60 141 L52 146 L50 149 Z" fill="#eeece6"/>
<path d="M100 134 L82 137 L66 137 L60 141 L52 146 L49 151 L52 153 L60 153 L65 152 L66 155 L67 165 L67 178 L64 192 L60 205 L57 215 L54 222 L48 226 L45 233 L40 241 L37 249 L33 253 L28 258 L22 264 L16 271 L10 278 L5 284 L1 289 L0 290 L0 301 L100 301 Z" fill="#d6f0ff"/>
<path d="M78 112 L84 106 L88 101.5 L100 99 L100 116 L92 118.5 L84 119.5 L77 120.5 L74 118.5 Z" fill="#d6f0ff"/><path d="M80 118 L84 116 L88 117 L85 119 Z M92 116 L96 114.5 L98 116 Z" fill="#efede8"/>
<path d="M0 263 L3 266 L5 275 L4 282 L0 286 Z" fill="#d6f0ff"/>
<!-- labels -->
<g font-size="3.8" fill="#585858" font-family="Liberation Sans">
<text x="15.8" y="61.6" fill="#111" font-size="3.3" font-weight="bold">8h8h8d</text>
<text x="69" y="54" fill="#666" font-size="3.6">Danbury</text>
<text x="14" y="94.5" fill="#a596b4" font-size="3.6" letter-spacing="0.4">NEW JERSEY</text>
<text x="13" y="204" fill="#a596b4" font-size="3.6" letter-spacing="0.4">NEW JERSEY</text>
<text x="33" y="110.5">Paterson</text>
<text x="36" y="118">Passaic</text>
<text x="33" y="131.5">Elizabeth</text>
<text x="61" y="103.3">White Plains</text>
<text x="75" y="110.5">Yonkers</text>
<text x="80" y="94.5">Greenwich</text>
<text x="62" y="131.8" font-size="5.2" fill="#555">New York</text>
<text x="89.4" y="123">Hicksville</text>
<text x="89.4" y="131.4">Levittown</text>
<text x="15" y="171">Trenton</text>
<text x="55" y="157.5">2FIR.</text>
<text x="67" y="165">Long Branch</text>
<text x="53" y="196.5">Toms River</text>
<text x="14" y="215">Wharton</text>
<text x="17" y="219.5">State</text>
<text x="16" y="224">Forest</text>
<text x="35" y="244">Atlantic</text>
<text x="38" y="248">City</text>
</g>
<!-- toolbar -->
<rect x="30.8" y="54.7" width="11.4" height="11.6" fill="#fff"/>
<rect x="45.8" y="54.7" width="47.5" height="11.6" fill="#fff"/>
<g fill="none" stroke="#5a5a5a" stroke-width="0.7">
<circle cx="35.6" cy="59.6" r="1.75"/><path d="M36.9 60.9 L38.8 62.8"/>
<path d="M49.2 60.4 L51.5 57.9 L53.8 60.4 M49.9 59.7 V62.9 H53.1 V59.7 M50.9 62.9 V61.2 H52.1 V62.9" stroke-width="0.5"/>
<path d="M72.9 59.3 L75.8 57.8 L78.7 59.3 L75.8 60.8 Z M72.9 60.9 L75.8 62.4 L78.7 60.9 M72.9 62.3 L75.8 63.8 L78.7 62.3" stroke-width="0.6"/>
</g>
<g fill="#5a5a5a">
<rect x="61" y="57.6" width="1" height="6"/>
<rect x="62.7" y="57.6" width="3.7" height="1.4" fill="#9a9a9a"/><rect x="62.7" y="59.8" width="3.7" height="1.4" fill="#9a9a9a"/><rect x="62.7" y="62" width="3.7" height="1.4" fill="#9a9a9a"/>
<g fill="none" stroke="#6a6a6a" stroke-width="0.7"><rect x="84.7" y="57.8" width="2.3" height="2.1"/><rect x="88.3" y="57.8" width="2.3" height="2.1"/><rect x="84.7" y="61" width="2.3" height="2.1"/><rect x="88.3" y="61" width="2.3" height="2.1"/></g>
</g>
<!-- zoom -->
<rect x="81.7" y="262.5" width="12" height="23.3" fill="#fff"/>
<line x1="81.7" y1="274.2" x2="93.7" y2="274.2" stroke="#e0e0e0" stroke-width="0.5"/>
<g stroke="#6e6e6e" stroke-width="0.5"><path d="M85.5 268.3 H89.9 M87.7 266.1 V270.5 M85.5 280 H89.9"/></g>
<!-- attribution -->
<rect x="0" y="291.7" width="100" height="9" fill="#f4f7f8" opacity="0.92"/>
<text x="-4.6" y="296.2" font-size="4.1" fill="#555" font-family="Liberation Sans">USGS, EPA, NPS | United Stat...</text>
<text x="97.3" y="296.2" font-size="4.4" fill="#555" text-anchor="end" font-family="Liberation Sans">Powered by Esri</text>

</svg>
</div>
</body></html>
